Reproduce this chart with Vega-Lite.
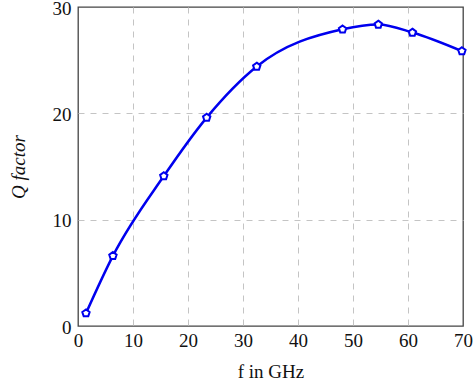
{
  "$schema": "https://vega.github.io/schema/vega-lite/v6.json",
  "width": 385,
  "height": 319,
  "autosize": {"type": "none"},
  "padding": {"left": 78, "top": 7, "right": 11, "bottom": 55},
  "background": "white",
  "config": {
    "view": {"stroke": "#444444", "strokeWidth": 1.3},
    "font": "Liberation Serif",
    "axis": {
      "labelFont": "Liberation Serif",
      "titleFont": "Liberation Serif",
      "labelFontSize": 19,
      "titleFontSize": 19,
      "titleFontWeight": "normal",
      "labelColor": "#111111",
      "titleColor": "#111111",
      "domain": false,
      "ticks": false,
      "gridColor": "#c4c4c4",
      "gridDash": [6, 6],
      "gridWidth": 1
    }
  },
  "data": {
    "values": [
      {"f": 1.45, "q": 1.2},
      {"f": 6.35, "q": 6.6},
      {"f": 15.6, "q": 14.1},
      {"f": 23.4, "q": 19.6},
      {"f": 32.5, "q": 24.4},
      {"f": 48.1, "q": 27.9},
      {"f": 54.6, "q": 28.35},
      {"f": 60.8, "q": 27.6},
      {"f": 69.8, "q": 25.85}
    ]
  },
  "encoding": {
    "x": {
      "field": "f", "type": "quantitative",
      "scale": {"domain": [0, 70], "nice": false, "zero": false},
      "axis": {"values": [0, 10, 20, 30, 40, 50, 60, 70], "title": "f  in GHz", "labelPadding": 5, "titlePadding": 12, "labelFlush": false,
        "gridOpacity": {"condition": {"test": "datum.value == 0 || datum.value == 70", "value": 0}, "value": 1}}
    },
    "y": {
      "field": "q", "type": "quantitative",
      "scale": {"domain": [0, 30], "nice": false},
      "axis": {"values": [0, 10, 20, 30], "title": "Q factor", "titleFontStyle": "italic", "labelPadding": 7, "titlePadding": 24, "labelFlush": false, "labelOffset": 1,
        "gridOpacity": {"condition": {"test": "datum.value == 0 || datum.value == 30", "value": 0}, "value": 1}}
    }
  },
  "layer": [
    {"mark": {"type": "line", "interpolate": "monotone", "color": "#0000ee", "strokeWidth": 2.5}},
    {"mark": {"type": "point", "shape": "M0,-1L0.951,-0.309L0.588,0.809L-0.588,0.809L-0.951,-0.309Z", "size": 60, "filled": false, "fill": "white", "fillOpacity": 1, "stroke": "#0000ee", "strokeWidth": 2, "opacity": 1}}
  ]
}
